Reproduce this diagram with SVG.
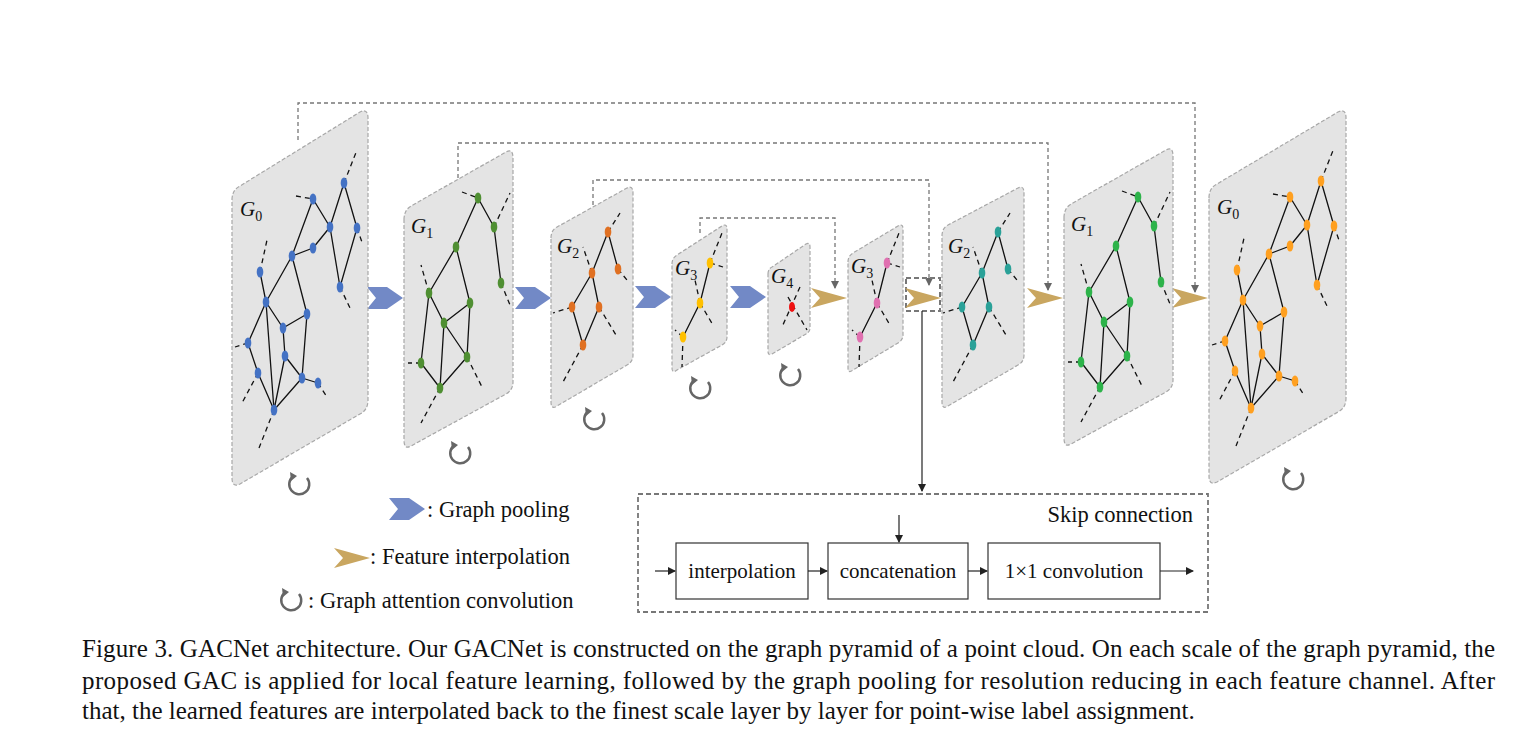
<svg xmlns="http://www.w3.org/2000/svg" xmlns:xlink="http://www.w3.org/1999/xlink" width="1529" height="737" viewBox="0 0 1529 737">
<style>
.pl{fill:#e4e4e4;stroke:#a8a8a8;stroke-width:1.2;stroke-dasharray:4 2;stroke-linejoin:round}
.e{stroke:#111;stroke-width:1.3;fill:none}
.d{stroke:#111;stroke-width:1.3;stroke-dasharray:5 4;fill:none}
.sk{stroke:#777;stroke-width:1.3;stroke-dasharray:4 3;fill:none}
.lbl{font-family:"Liberation Serif",serif;font-style:italic;font-size:21px;fill:#111}
.sub{font-size:14px;font-style:normal}
.t{font-family:"Liberation Serif",serif;font-size:22.5px;fill:#111}
.tb{font-family:"Liberation Serif",serif;font-size:21px;fill:#111}
.cap{font-family:"Liberation Serif",serif;font-size:25px;fill:#111}
.bx{fill:#fff;stroke:#333;stroke-width:1.2}
.rot{fill:none;stroke:#666;stroke-width:2.5}
.blue{fill:#7289c6}
.gold{fill:#c9a660}
</style>
<defs>
<marker id="ah" markerWidth="8" markerHeight="8" refX="7" refY="4" orient="auto" markerUnits="userSpaceOnUse"><path d="M0,0 L8,4 L0,8 Z" fill="#222"/></marker>
<marker id="ag" markerWidth="8" markerHeight="8" refX="7" refY="4" orient="auto" markerUnits="userSpaceOnUse"><path d="M0,0 L8,4 L0,8 Z" fill="#666"/></marker>
<path id="chB" d="M-18,-11 L2,-11 L18,0 L2,11 L-18,11 L-9,0Z"/>
<path id="chG" d="M-18,-10 L18,0 L-18,10 L-9,0Z"/>
<g id="rot"><path class="rot" d="M8,-7 A10,10 0 1 1 -6,-8.5"/><path d="M-9,-13 L-2,-9 L-8,-4 Z" fill="#666"/></g>
<g id="g0e">
<path class="e" d="M313,199L330,227M344,183L330,227M344,183L357,228M330,227L313,248M292,256L313,248M313,199L292,256M330,227L340,287M357,228L340,287M292,256L266,302M260,272L266,302M266,302L283,328M283,328L307,314M292,256L307,314M266,302L248,343M266,302L274,410M248,343L258,373M258,373L274,410M283,328L285,356M285,356L302,378M302,378L318,383M302,378L274,410M307,314L302,378M285,356L274,410"/>
<path class="d" d="M296,196L313,199M344,183L357,150M357,228L363,245M340,287L350,308M260,272L267,240M248,343L235,347M258,373L242,403M318,383L327,397M274,410L259,448"/>
</g>
<g id="g0n"><ellipse cx="313" cy="199" rx="3.3" ry="5.5"/><ellipse cx="344" cy="183" rx="3.3" ry="5.5"/><ellipse cx="330" cy="227" rx="3.3" ry="5.5"/><ellipse cx="357" cy="228" rx="3.3" ry="5.5"/><ellipse cx="313" cy="248" rx="3.3" ry="5.5"/><ellipse cx="292" cy="256" rx="3.3" ry="5.5"/><ellipse cx="260" cy="272" rx="3.3" ry="5.5"/><ellipse cx="340" cy="287" rx="3.3" ry="5.5"/><ellipse cx="266" cy="302" rx="3.3" ry="5.5"/><ellipse cx="307" cy="314" rx="3.3" ry="5.5"/><ellipse cx="283" cy="328" rx="3.3" ry="5.5"/><ellipse cx="248" cy="343" rx="3.3" ry="5.5"/><ellipse cx="285" cy="356" rx="3.3" ry="5.5"/><ellipse cx="258" cy="373" rx="3.3" ry="5.5"/><ellipse cx="302" cy="378" rx="3.3" ry="5.5"/><ellipse cx="318" cy="383" rx="3.3" ry="5.5"/><ellipse cx="274" cy="410" rx="3.3" ry="5.5"/></g>
<g id="g1e">
<path class="e" d="M478,198L494,227M478,198L456,247M494,227L501,283M456,247L429,293M456,247L470,303M429,293L444,323M444,323L470,303M444,323L467,357M470,303L467,357M429,293L421,363M421,363L440,388M444,323L440,388M467,357L440,388"/>
<path class="d" d="M462,192L478,198M494,227L510,193M501,283L510,305M429,293L421,265M467,357L482,387M421,363L408,363M440,388L421,423"/>
</g>
<g id="g1n"><ellipse cx="478" cy="198" rx="3.3" ry="5.5"/><ellipse cx="494" cy="227" rx="3.3" ry="5.5"/><ellipse cx="456" cy="247" rx="3.3" ry="5.5"/><ellipse cx="501" cy="283" rx="3.3" ry="5.5"/><ellipse cx="429" cy="293" rx="3.3" ry="5.5"/><ellipse cx="470" cy="303" rx="3.3" ry="5.5"/><ellipse cx="444" cy="323" rx="3.3" ry="5.5"/><ellipse cx="467" cy="357" rx="3.3" ry="5.5"/><ellipse cx="421" cy="363" rx="3.3" ry="5.5"/><ellipse cx="440" cy="388" rx="3.3" ry="5.5"/></g>
<g id="g2e">
<path class="e" d="M608,232L592,273M608,232L618,269M592,273L572,307M592,273L599,307M572,307L583,345M599,307L583,345"/>
<path class="d" d="M608,232L620,213M618,269L627,280M592,273L583,247M572,307L553,313M599,307L616,335M583,345L563,382"/>
</g>
<g id="g2n"><ellipse cx="608" cy="232" rx="3.3" ry="5.5"/><ellipse cx="618" cy="269" rx="3.3" ry="5.5"/><ellipse cx="592" cy="273" rx="3.3" ry="5.5"/><ellipse cx="572" cy="307" rx="3.3" ry="5.5"/><ellipse cx="599" cy="307" rx="3.3" ry="5.5"/><ellipse cx="583" cy="345" rx="3.3" ry="5.5"/></g>
<g id="g3e">
<path class="e" d="M710,263L700,303L683,337"/>
<path class="d" d="M710,263L722,233M710,263L723,267M700,303L695,280M700,303L713,325M683,337L675,330M683,337L682,367"/>
</g>
<g id="g3n"><ellipse cx="710" cy="263" rx="3.3" ry="5.5"/><ellipse cx="700" cy="303" rx="3.3" ry="5.5"/><ellipse cx="683" cy="337" rx="3.3" ry="5.5"/></g>
</defs>

<g id="connectors">
<path class="sk" d="M298,140V103H1195V292" marker-end="url(#ag)"/>
<path class="sk" d="M458,178V143H1048V290" marker-end="url(#ag)"/>
<path class="sk" d="M593,205V180H929V285" marker-end="url(#ag)"/>
<path class="sk" d="M700,233V218H835V288" marker-end="url(#ag)"/>
<rect x="906" y="278" width="34" height="33" fill="none" stroke="#777" stroke-width="2" stroke-dasharray="5 3"/>
<path d="M922,311V491" stroke="#222" stroke-width="1.2" fill="none" marker-end="url(#ah)"/>
<use href="#chB" class="blue" x="385" y="298"/>
<use href="#chB" class="blue" x="533" y="298"/>
<use href="#chB" class="blue" x="653" y="297"/>
<use href="#chB" class="blue" x="748" y="297"/>
<use href="#chG" class="gold" x="829" y="298"/>
<use href="#chG" class="gold" x="923" y="298"/>
<use href="#chG" class="gold" x="1045" y="298"/>
<use href="#chG" class="gold" x="1190" y="298"/>
</g>

<g id="G0">
<path class="pl" d="M232,200Q232,190 240,186L360,112Q368,108 368,118V400Q368,410 360,414L240,484Q232,488 232,478Z"/>
<use href="#g0e"/><use href="#g0n" fill="#4472c4"/>
<text class="lbl" x="240" y="216">G<tspan class="sub" dy="5">0</tspan></text>
<use href="#rot" x="299" y="485"/>
</g>
<g id="G1">
<path class="pl" d="M404,220Q404,210 411,206L506,152Q513,148 513,158V382Q513,390 506,394L411,446Q404,450 404,440Z"/>
<use href="#g1e"/><use href="#g1n" fill="#4f8f32"/>
<text class="lbl" x="411" y="233">G<tspan class="sub" dy="5">1</tspan></text>
<use href="#rot" x="460" y="454"/>
</g>
<g id="G2">
<path class="pl" d="M551,238Q551,230 557,227L627,188Q633,185 633,193V355Q633,362 627,365L557,406Q551,410 551,402Z"/>
<use href="#g2e"/><use href="#g2n" fill="#e07022"/>
<text class="lbl" x="557" y="253">G<tspan class="sub" dy="5">2</tspan></text>
<use href="#rot" x="594" y="420"/>
</g>
<g id="G3">
<path class="pl" d="M672,264Q672,258 677,255L722,226Q727,223 727,229V337Q727,342 722,345L677,370Q672,374 672,368Z"/>
<use href="#g3e"/><use href="#g3n" fill="#ffc000"/>
<text class="lbl" x="675" y="275">G<tspan class="sub" dy="5">3</tspan></text>
<use href="#rot" x="700" y="389"/>
</g>
<g id="G4">
<path class="pl" d="M768,274Q768,269 772,267L806,244Q810,242 810,247V328Q810,332 806,334L772,354Q768,356 768,351Z"/>
<path class="d" d="M800,287L782,327M788,297L807,330"/>
<ellipse cx="792" cy="307" rx="3" ry="5" fill="#ee1111"/>
<text class="lbl" x="771" y="283">G<tspan class="sub" dy="5">4</tspan></text>
<use href="#rot" x="790" y="376"/>
</g>
<g id="G3r">
<path class="pl" d="M848,262Q848,256 853,253L898,226Q903,223 903,229V335Q903,340 898,343L853,370Q848,374 848,368Z"/>
<use href="#g3e" transform="translate(177,0)"/><use href="#g3n" transform="translate(177,0)" fill="#e070b0"/>
<text class="lbl" x="851" y="273">G<tspan class="sub" dy="5">3</tspan></text>
</g>
<g id="G2r">
<path class="pl" d="M942,236Q942,228 948,225L1018,188Q1024,185 1024,193V355Q1024,362 1018,365L948,406Q942,410 942,402Z"/>
<use href="#g2e" transform="translate(390,0)"/><use href="#g2n" transform="translate(390,0)" fill="#2aa198"/>
<text class="lbl" x="948" y="253">G<tspan class="sub" dy="5">2</tspan></text>
</g>
<g id="G1r">
<path class="pl" d="M1064,218Q1064,208 1071,204L1166,150Q1173,146 1173,156V380Q1173,388 1166,392L1071,444Q1064,448 1064,438Z"/>
<use href="#g1e" transform="translate(660,-1)"/><use href="#g1n" transform="translate(660,-1)" fill="#2db34a"/>
<text class="lbl" x="1071" y="231">G<tspan class="sub" dy="5">1</tspan></text>
</g>
<g id="G0r">
<path class="pl" d="M1209,198Q1209,188 1217,184L1338,112Q1346,108 1346,118V398Q1346,408 1338,412L1217,482Q1209,486 1209,476Z"/>
<use href="#g0e" transform="translate(977,-2)"/><use href="#g0n" transform="translate(977,-2)" fill="#ffa020"/>
<text class="lbl" x="1217" y="214">G<tspan class="sub" dy="5">0</tspan></text>
<use href="#rot" x="1293" y="480"/>
</g>

<g id="legend">
<use href="#chB" class="blue" x="407" y="509"/>
<text class="t" x="427" y="517">: Graph pooling</text>
<use href="#chG" class="gold" x="352" y="558"/>
<text class="t" x="370" y="564">: Feature interpolation</text>
<use href="#rot" x="291" y="601"/>
<text class="t" x="308" y="608">: Graph attention convolution</text>
</g>

<g id="skip">
<rect x="638" y="494" width="570" height="118" fill="none" stroke="#777" stroke-width="1.8" stroke-dasharray="5 3"/>
<text class="t" x="1193" y="522" text-anchor="end">Skip connection</text>
<rect class="bx" x="676" y="543" width="132" height="56"/>
<text class="tb" x="742" y="578" text-anchor="middle">interpolation</text>
<rect class="bx" x="828" y="543" width="140" height="56"/>
<text class="tb" x="898" y="578" text-anchor="middle">concatenation</text>
<rect class="bx" x="988" y="543" width="172" height="56"/>
<text class="tb" x="1074" y="578" text-anchor="middle">1×1 convolution</text>
<g stroke="#222" stroke-width="1.2" fill="none">
<path d="M655,571H675" marker-end="url(#ah)"/>
<path d="M808,571H827" marker-end="url(#ah)"/>
<path d="M968,571H987" marker-end="url(#ah)"/>
<path d="M1160,571H1193" marker-end="url(#ah)"/>
<path d="M899,515V542" marker-end="url(#ah)"/>
</g>
</g>

<g id="caption">
<text class="cap" x="82" y="657" textLength="1413" lengthAdjust="spacing">Figure 3. GACNet architecture. Our GACNet is constructed on the graph pyramid of a point cloud. On each scale of the graph pyramid, the</text>
<text class="cap" x="82" y="689" textLength="1413" lengthAdjust="spacing">proposed GAC is applied for local feature learning, followed by the graph pooling for resolution reducing in each feature channel. After</text>
<text class="cap" x="82" y="719">that, the learned features are interpolated back to the finest scale layer by layer for point-wise label assignment.</text>
</g>
</svg>
